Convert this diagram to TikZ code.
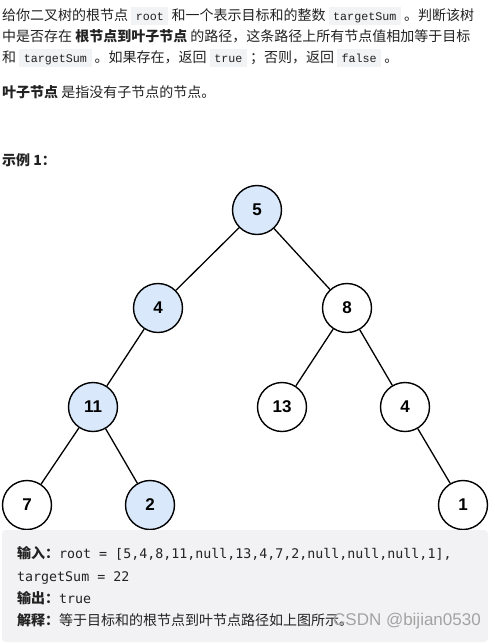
\documentclass[tikz,border=0pt]{standalone}
\usepackage{fontspec}
\setmainfont{Noto Sans CJK SC}
\newfontfamily\codefont{Liberation Mono}
\newfontfamily\boxmono{DejaVu Sans Mono}
\newfontfamily\numfont{Liberation Sans}
\usetikzlibrary{positioning}

\definecolor{pathblue}{HTML}{DAE8FC}
\definecolor{codebg}{HTML}{F2F3F5}
\definecolor{boxbg}{HTML}{F2F2F4}
\definecolor{textcol}{HTML}{222222}
\definecolor{markgray}{HTML}{A3A3A3}

% inline code in a grey box
\newcommand{\code}[1]{{\fboxsep=0pt\colorbox{codebg}{\rule[-4.5pt]{0pt}{18pt}\hspace{4.5pt}{\codefont\fontsize{11.7pt}{14pt}\selectfont #1}\hspace{4.5pt}}}}

\begin{document}
\begin{tikzpicture}[
    x=1pt, y=-1pt,
    font=\fontsize{14pt}{17pt}\selectfont,
    txt/.style={
        anchor=base west,
        inner sep=0pt,
        text=textcol
    },
    tnode/.style={
        circle,
        draw,
        line width=1.4pt,
        minimum size=49pt,
        inner sep=0pt,
        fill=white,
        font=\numfont\bfseries\fontsize{17pt}{17pt}\selectfont
    },
    onpath/.style={tnode, fill=pathblue},
    edge/.style={line width=1.3pt}
]
\useasboundingbox (0,0) rectangle (495,643);

% ---------------- Text ----------------
\node[txt] (l1) at (2,20) {给你二叉树的根节点 \code{root} 和一个表示目标和的整数 \code{targetSum} 。判断该树};
\node[txt] (l2) at (2,41) {中是否存在 \textbf{根节点到叶子节点} 的路径，这条路径上所有节点值相加等于目标};
\node[txt] (l3) at (2,62) {和 \code{targetSum} 。如果存在，返回 \code{true} ；否则，返回 \code{false} 。};
\node[txt] (l4) at (2,97) {\textbf{叶子节点} 是指没有子节点的节点。};
\node[txt] (ex) at (2,165) {\textbf{示例 1：}};

% ---------------- Tree ----------------
\node[onpath] (n5)  at (257,210) {5};
\node[onpath] (n4)  at (158,308) {4};
\node[tnode]  (n8)  at (347,308) {8};
\node[onpath] (n11) at (93,407)  {11};
\node[tnode]  (n13) at (282,407) {13};
\node[tnode]  (n4b) at (405,407) {4};
\node[tnode]  (n7)  at (27,505)  {7};
\node[onpath] (n2)  at (150,505) {2};
\node[tnode]  (n1)  at (463,505) {1};

\draw[edge] (n5) -- (n4);
\draw[edge] (n5) -- (n8);
\draw[edge] (n4) -- (n11);
\draw[edge] (n8) -- (n13);
\draw[edge] (n8) -- (n4b);
\draw[edge] (n11) -- (n7);
\draw[edge] (n11) -- (n2);
\draw[edge] (n4b) -- (n1);

% ---------------- Example box ----------------
\fill[boxbg, rounded corners=4pt] (2,530) rectangle (488,642);
\node[txt] (in1) at (17,558) {\textbf{输入：}{\boxmono\fontsize{13.3pt}{16pt}\selectfont root = [5,4,8,11,null,13,4,7,2,null,null,null,1],}};
\node[txt] (in2) at (17,581) {{\boxmono\fontsize{13.3pt}{16pt}\selectfont targetSum = 22}};
\node[txt] (out) at (17,603) {\textbf{输出：}{\boxmono\fontsize{13.3pt}{16pt}\selectfont true}};
\node[txt] (why) at (17,625) {\textbf{解释：}等于目标和的根节点到叶节点路径如上图所示。};
\node[anchor=base east, inner sep=0pt, text=markgray, font=\numfont\fontsize{17pt}{17pt}\selectfont] (mark) at (481,625) {CSDN @bijian0530};

\end{tikzpicture}
\end{document}
